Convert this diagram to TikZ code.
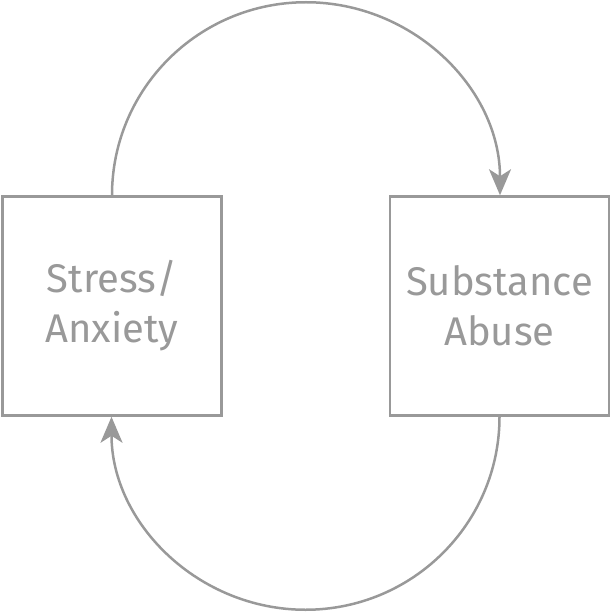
\documentclass[tikz,border=0pt]{standalone}
\usepackage{fontspec}
\setmainfont{Fira Sans}
\usetikzlibrary{arrows.meta}
\definecolor{g}{HTML}{999999}
\begin{document}
\begin{tikzpicture}[x=1pt,y=-1pt,
  box/.style={draw=g,line width=2.5pt,minimum size=219pt,inner sep=0pt,text=g,font=\fontsize{40}{50}\selectfont,align=center},
  conn/.style={draw=g,line width=2.5pt,-{Stealth[length=26pt,width=22pt,inset=7pt]}}]
\useasboundingbox (0,0) rectangle (612,612);
\node[box] (a) at (112,306) {Stress/\\Anxiety};
\node[box] (b) at (499.5,306) {Substance\\Abuse};
\draw[conn] (a.north) arc[start angle=180,end angle=0,x radius=194,y radius=-193] ;
\draw[conn] (b.south) arc[start angle=0,end angle=-180,x radius=194,y radius=-193];
\end{tikzpicture}
\end{document}
